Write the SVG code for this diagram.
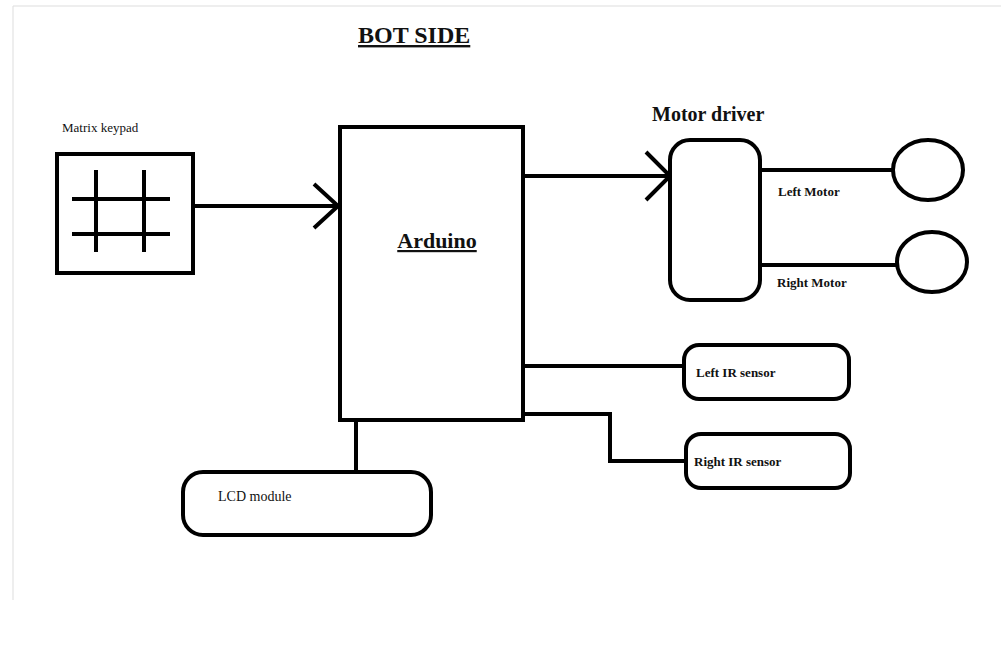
<svg xmlns="http://www.w3.org/2000/svg" width="1001" height="657" viewBox="0 0 1001 657">
<style>
.s{fill:none;stroke:#000;stroke-width:4}
.b{fill:#fff;stroke:#000;stroke-width:4}
text{font-family:"Liberation Serif",serif;fill:#111}
.bd{font-weight:bold}
</style>
<rect width="1001" height="657" fill="#fff"/>
<path d="M13,600 V6 H1001" fill="none" stroke="#ddd" stroke-width="1"/>
<text x="358" y="43" font-size="24" class="bd" text-decoration="underline">BOT SIDE</text>
<g id="connectors">
<path class="s" d="M193,206 H338 M314,184 L338,206 L314,228"/>
<path class="s" d="M523,176 H670 M646,152 L670,176 L646,200"/>
<path class="s" d="M760,170 H893"/>
<path class="s" d="M760,265 H897"/>
<path class="s" d="M523,366 H684"/>
<path class="s" d="M523,414 H610 V461 H686"/>
<path class="s" d="M356,420 V472"/>
</g>
<g id="keypad">
<text x="62" y="132" font-size="13">Matrix keypad</text>
<rect class="b" x="57" y="154" width="136" height="119"/>
<path class="s" d="M96,170 V252 M144,170 V252 M72,199 H170 M72,234 H170" stroke-width="5"/>
</g>
<g id="arduino">
<rect class="b" x="340" y="127" width="183" height="293"/>
<text x="437" y="248" font-size="22" class="bd" text-anchor="middle" text-decoration="underline">Arduino</text>
</g>
<g id="motordriver">
<text x="652" y="121" font-size="20" class="bd">Motor driver</text>
<rect class="b" x="670" y="140" width="90" height="160" rx="20"/>
</g>
<g id="leftmotor">
<ellipse class="b" cx="928" cy="170" rx="35" ry="30"/>
<text x="778" y="196" font-size="13" class="bd">Left Motor</text>
</g>
<g id="rightmotor">
<ellipse class="b" cx="932" cy="262" rx="35" ry="30"/>
<text x="777" y="287" font-size="13" class="bd">Right Motor</text>
</g>
<g id="leftir">
<rect class="b" x="684" y="345" width="165" height="54" rx="15"/>
<text x="696" y="377" font-size="13" class="bd">Left IR sensor</text>
</g>
<g id="rightir">
<rect class="b" x="686" y="434" width="164" height="54" rx="15"/>
<text x="694" y="466" font-size="13" class="bd">Right IR sensor</text>
</g>
<g id="lcd">
<rect class="b" x="183" y="472" width="248" height="63" rx="20"/>
<text x="218" y="501" font-size="14">LCD module</text>
</g>
</svg>
